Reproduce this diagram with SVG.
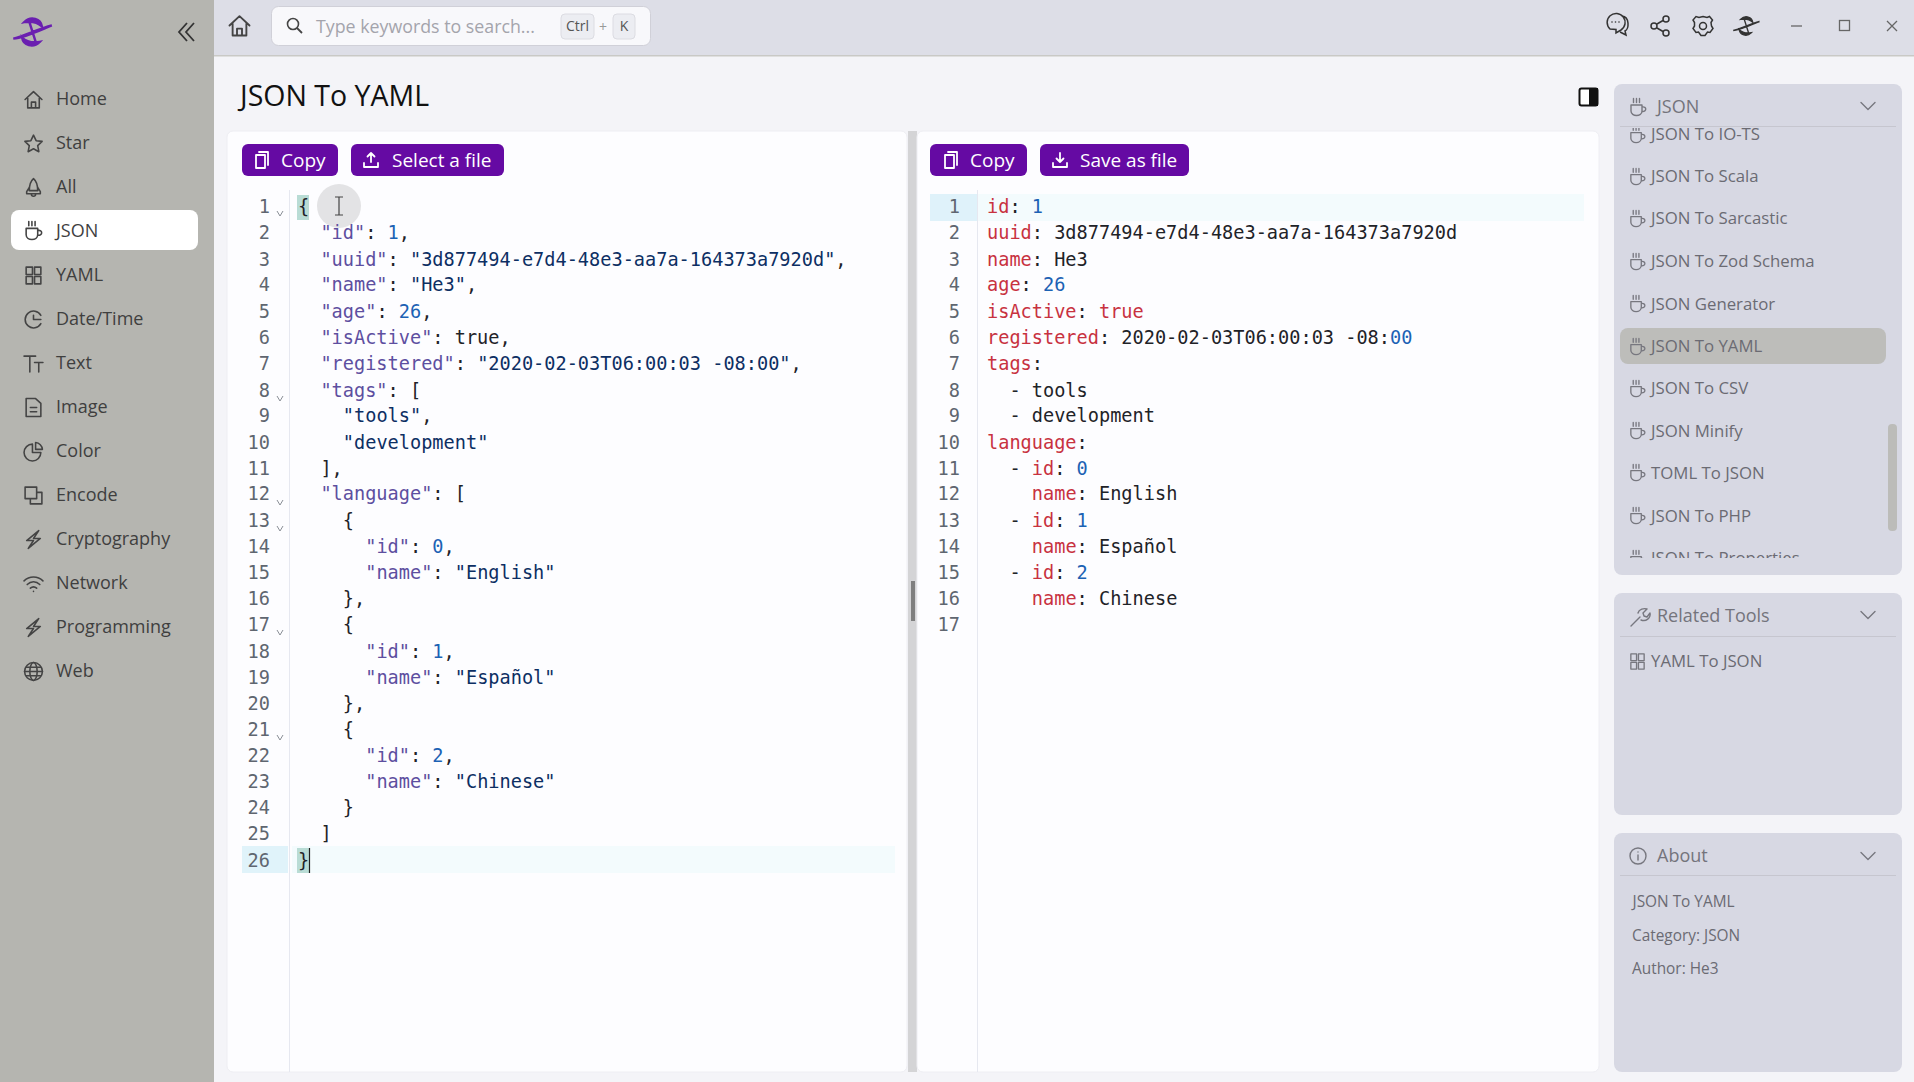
<svg xmlns="http://www.w3.org/2000/svg" width="1914" height="1082" viewBox="0 0 1914 1082">
<style>
text{font-family:"Open Sans","Noto Sans",sans-serif}
.nav{font-size:18px;fill:#3f3f3f}
.code{font-family:"DejaVu Sans Mono","Liberation Mono",monospace;font-size:18.6px;white-space:pre;fill:#1f2328}
.ln{font-family:"DejaVu Sans Mono","Liberation Mono",monospace;font-size:18.6px;fill:#5f6670;text-anchor:end}
.k{fill:#5d4fa0}.s{fill:#0d2f63}.n{fill:#1c62b4}.r{fill:#c8323f}
.btn{fill:#650aa3}
.bt{font-size:19px;fill:#fff}
.item{font-size:16.8px;fill:#6b6b73}
.sec{font-size:18px;fill:#74747c}
.ab{font-size:15.4px;fill:#6b6b73}
.ic{fill:none;stroke:#444;stroke-width:1.5;stroke-linecap:round;stroke-linejoin:round}
.ig{fill:none;stroke:#77777f;stroke-width:1.4;stroke-linecap:round;stroke-linejoin:round}
.wh{fill:none;stroke:#fff;stroke-width:1.8;stroke-linecap:round;stroke-linejoin:round}
.panel{fill:#d7d8e3}
.rule{stroke:#c6c6cf;stroke-width:1}
</style>
<defs>
<symbol id="i-home" viewBox="0 0 20 20" overflow="visible"><path d="M2 10 10 2.5 18 10M4.5 8.5V18H15.5V8.5M8 18V12.5H12V18"/></symbol>
<symbol id="i-star" viewBox="0 0 20 20" overflow="visible"><path d="M10 2 12.5 7.3 18.2 8 14 12 15.1 17.8 10 15 4.9 17.8 6 12 1.8 8 7.5 7.3Z"/></symbol>
<symbol id="i-rocket" viewBox="0 0 20 20" overflow="visible"><path d="M10 1.5C13 4 14 8 14 13H6C6 8 7 4 10 1.5ZM6 10 3.5 14V16H16.500V14L14 10M8 16.500C8 19 12 19 12 16.500"/></symbol>
<symbol id="i-cup" viewBox="0 0 20 20" overflow="visible"><path d="M3 8H14V14C14 20 3 20 3 14ZM14 10C19 9 19 15 14 14.500M5.500 1.500V5.500M8.500 1.500V5.500M11.500 1.500V5.500"/></symbol>
<symbol id="i-grid" viewBox="0 0 20 20" overflow="visible"><path d="M3 2H9V9H3ZM11 2H17V9H11ZM3 11H9V18H3ZM11 11H17V18H11Z"/></symbol>
<symbol id="i-clock" viewBox="0 0 20 20" overflow="visible"><path d="M17 6A8 8 0 1 0 17 14M10 6V10H17"/></symbol>
<symbol id="i-text" viewBox="0 0 20 20" overflow="visible"><path d="M1 3H12M6.500 3V18M11 9H19M15 9V18"/></symbol>
<symbol id="i-doc" viewBox="0 0 20 20" overflow="visible"><path d="M3 1.500H12L17 6V18.500H3ZM7 10H13M7 14H13"/></symbol>
<symbol id="i-pie" viewBox="0 0 20 20" overflow="visible"><path d="M9 3A8 8 0 1 0 17 11H9ZM12 1.500A7 7 0 0 1 18.500 8H12Z"/></symbol>
<symbol id="i-encode" viewBox="0 0 20 20" overflow="visible"><path d="M2 2H13V13H2ZM7 13V18H18V7H13"/></symbol>
<symbol id="i-bolt" viewBox="0 0 20 20" overflow="visible"><path d="M15 1.500 3.500 11H10L5 18.500 16.500 9H10Z"/></symbol>
<symbol id="i-wifi" viewBox="0 0 20 20" overflow="visible"><path d="M1 7.500C6 2.500 14 2.500 19 7.500M4 11C7.500 7.500 12.500 7.500 16 11M7 14.500C9 12.800 11 12.800 13 14.500M10 17.500V17.600"/></symbol>
<symbol id="i-globe" viewBox="0 0 20 20" overflow="visible"><circle cx="10" cy="10" r="8.500"/><ellipse cx="10" cy="10" rx="3.500" ry="8.500"/><path d="M1.500 10H18.500M3 6H17M3 14H17"/></symbol>
<symbol id="i-copy" viewBox="0 0 20 20" overflow="visible"><path d="M7 2H16V15M4 5H13V18H4Z"/></symbol>
<symbol id="i-up" viewBox="0 0 20 20" overflow="visible"><path d="M10 12V3M6.500 6.500 10 3 13.500 6.500M3 13V17H17V13"/></symbol>
<symbol id="i-down" viewBox="0 0 20 20" overflow="visible"><path d="M10 3V12M6.500 8.500 10 12 13.500 8.500M3 13V17H17V13"/></symbol>
<symbol id="i-chev" viewBox="0 0 16 10" overflow="visible"><path d="M1 1.500 8 8.500 15 1.500"/></symbol>
<path id="fold" d="M0 0 3 5 6 0" fill="none" stroke="#8a8f96" stroke-width="1"/>
<path id="orbit" d="M-17 6C-8 4 6-3 18-6C8-2-6 5-17 6ZM-7-9C-1-15 8-12 9-5 5-9-1-10-7-9ZM7 9C1 15-8 12-9 5-5 9 1 10 7 9ZM-3-11 4 11" />
</defs>

<rect width="1914" height="1082" fill="#f4f4f8"/>
<rect id="topbar-bg" x="214" y="0" width="1700" height="55" fill="#dddee7"/>
<rect x="214" y="55" width="1700" height="1.500" fill="#c9c9c6"/>

<g id="sidebar">
<rect width="214" height="1082" fill="#b5b5b0"/>
<use href="#orbit" transform="translate(32 32) scale(1.1)" fill="#6a1fb0" stroke="#6a1fb0" stroke-width="2.200"/>
<path d="M187 23 179 32 187 41M194 23 186 32 194 41" fill="none" stroke="#333" stroke-width="1.800"/>
<rect x="11" y="210" width="187" height="40" rx="8" fill="#fff"/>
<g id="nav-home"><use href="#i-home" x="23" y="89" width="21" height="21" class="ic"/><text class="nav" x="56" y="105">Home</text></g>
<g id="nav-star"><use href="#i-star" x="23" y="133" width="21" height="21" class="ic"/><text class="nav" x="56" y="149">Star</text></g>
<g id="nav-all"><use href="#i-rocket" x="23" y="177" width="21" height="21" class="ic"/><text class="nav" x="56" y="193">All</text></g>
<g id="nav-json"><use href="#i-cup" x="23" y="220" width="21" height="21" class="ic"/><text class="nav" x="56" y="237">JSON</text></g>
<g id="nav-yaml"><use href="#i-grid" x="23" y="265" width="21" height="21" class="ic"/><text class="nav" x="56" y="281">YAML</text></g>
<g id="nav-datetime"><use href="#i-clock" x="23" y="309" width="21" height="21" class="ic"/><text class="nav" x="56" y="325">Date/Time</text></g>
<g id="nav-text"><use href="#i-text" x="23" y="353" width="21" height="21" class="ic"/><text class="nav" x="56" y="369">Text</text></g>
<g id="nav-image"><use href="#i-doc" x="23" y="397" width="21" height="21" class="ic"/><text class="nav" x="56" y="413">Image</text></g>
<g id="nav-color"><use href="#i-pie" x="23" y="441" width="21" height="21" class="ic"/><text class="nav" x="56" y="457">Color</text></g>
<g id="nav-encode"><use href="#i-encode" x="23" y="485" width="21" height="21" class="ic"/><text class="nav" x="56" y="501">Encode</text></g>
<g id="nav-crypto"><use href="#i-bolt" x="23" y="529" width="21" height="21" class="ic"/><text class="nav" x="56" y="545">Cryptography</text></g>
<g id="nav-network"><use href="#i-wifi" x="23" y="573" width="21" height="21" class="ic"/><text class="nav" x="56" y="589">Network</text></g>
<g id="nav-programming"><use href="#i-bolt" x="23" y="617" width="21" height="21" class="ic"/><text class="nav" x="56" y="633">Programming</text></g>
<g id="nav-web"><use href="#i-globe" x="23" y="661" width="21" height="21" class="ic"/><text class="nav" x="56" y="677">Web</text></g>
</g>

<g id="topbar">
<use href="#i-home" x="227" y="13" width="25" height="25" class="ic"/>
<rect x="271.500" y="6.500" width="379" height="39" rx="7" fill="#f8f8fb" stroke="#d0d0d8"/>
<circle cx="293" cy="24" r="5.500" fill="none" stroke="#444" stroke-width="1.600"/><path d="M297 28 302 33" stroke="#444" stroke-width="1.800"/>
<text x="316" y="33" font-size="17.800" fill="#a4a4ac">Type keywords to search...</text>
<rect x="561" y="14" width="33" height="25" rx="4" fill="#ecedf2" stroke="#dcdce2"/>
<text x="577.500" y="31" font-size="14" fill="#555" text-anchor="middle">Ctrl</text>
<text x="603" y="32" font-size="14" fill="#999" text-anchor="middle">+</text>
<rect x="613" y="14" width="22" height="25" rx="4" fill="#ecedf2" stroke="#dcdce2"/>
<text x="624" y="31" font-size="14" fill="#555" text-anchor="middle">K</text>
<path d="M1610 29A9 9 0 1 1 1621 30L1616 33V29.500ZM1622 16C1630 17 1629 29 1625 31L1626 35 1620 32" fill="none" stroke="#333" stroke-width="1.500"/>
<circle cx="1612" cy="22" r=".8" fill="#333"/><circle cx="1615.500" cy="22" r=".8" fill="#333"/><circle cx="1619" cy="22" r=".8" fill="#333"/>
<g fill="none" stroke="#333" stroke-width="1.500"><circle cx="1654" cy="26" r="3"/><circle cx="1666" cy="19" r="3"/><circle cx="1666" cy="33" r="3"/><path d="M1657 24 1663 20.500M1657 28 1663 31.500"/>
<circle cx="1703" cy="26" r="3.500"/><path d="M1703 16.500 1707 17.500 1709.500 16.500 1712.500 20 1711 22.500 1711.500 26 1713 28.500 1710 32.500 1707.500 32 1705 35.500H1701L1698.500 32 1696 32.500 1693 28.500 1694.500 26 1694.500 22.500 1693 20 1696 16.500 1699 17.500Z"/></g>
<use href="#orbit" transform="translate(1746 26) scale(.75)" fill="#333" stroke="#333" stroke-width="1.800"/>
<g fill="none" stroke="#666" stroke-width="1.300"><path d="M1791 26H1802"/><rect x="1839.500" y="20.500" width="10" height="10"/><path d="M1887 21 1897 31M1897 21 1887 31"/></g>
</g>

<g id="title">
<text x="240" y="106" font-size="28.500" fill="#111">JSON To YAML</text>
<rect x="1579.500" y="88.500" width="18" height="17" rx="2" fill="#fff" stroke="#111" stroke-width="2"/>
<rect x="1589" y="88" width="9" height="18" fill="#111"/>
</g>

<g id="editor-left">
<rect x="227" y="131" width="680" height="941" rx="6" fill="#fdfdff" stroke="#eeeef3"/>
<g id="btn-copy-left"><rect class="btn" x="242" y="144" width="96" height="32" rx="6"/><use href="#i-copy" x="252" y="150" width="20" height="20" class="wh"/><text class="bt" x="281" y="167">Copy</text></g>
<g id="btn-select"><rect class="btn" x="351" y="144" width="153" height="32" rx="6"/><use href="#i-up" x="361" y="150" width="20" height="20" class="wh"/><text class="bt" x="392" y="167">Select a file</text></g>
<rect x="292" y="846" width="603" height="27" fill="#f3fbfd"/>
<rect x="242" y="846" width="46" height="27" fill="#e0f3fa"/>
<path d="M289.500 190V1072" stroke="#e6e8f0"/>
<rect x="297" y="195" width="12" height="25" fill="#b9dcd5"/>
<rect x="297" y="848" width="12" height="25" fill="#b9dcd5"/>
<circle cx="339" cy="206" r="22" fill="#e3e3e5"/>
<path d="M335 197H343M339 197V215M335 215H343" fill="none" stroke="#444" stroke-width="1.200"/>
<path d="M309.500 848V873" stroke="#222" stroke-width="1.200"/>
<g><text class="ln" x="270" y="213">1</text><text class="ln" x="270" y="239">2</text><text class="ln" x="270" y="266">3</text><text class="ln" x="270" y="291">4</text><text class="ln" x="270" y="318">5</text><text class="ln" x="270" y="344">6</text><text class="ln" x="270" y="370">7</text><text class="ln" x="270" y="397">8</text><text class="ln" x="270" y="422">9</text><text class="ln" x="270" y="449">10</text><text class="ln" x="270" y="475">11</text><text class="ln" x="270" y="500">12</text><text class="ln" x="270" y="527">13</text><text class="ln" x="270" y="553">14</text><text class="ln" x="270" y="579">15</text><text class="ln" x="270" y="605">16</text><text class="ln" x="270" y="631">17</text><text class="ln" x="270" y="658">18</text><text class="ln" x="270" y="684">19</text><text class="ln" x="270" y="710">20</text><text class="ln" x="270" y="736">21</text><text class="ln" x="270" y="762">22</text><text class="ln" x="270" y="788">23</text><text class="ln" x="270" y="814">24</text><text class="ln" x="270" y="840">25</text><text class="ln" x="270" y="867">26</text></g>
<use href="#fold" x="277" y="211"/><use href="#fold" x="277" y="396"/><use href="#fold" x="277" y="500"/><use href="#fold" x="277" y="526"/><use href="#fold" x="277" y="630"/><use href="#fold" x="277" y="735"/>
<text class="code" x="298" y="213">{</text>
<text class="code" x="320.400" y="239"><tspan class="k">"id"</tspan>: <tspan class="n">1</tspan>,</text>
<text class="code" x="320.400" y="266"><tspan class="k">"uuid"</tspan>: <tspan class="s">"3d877494-e7d4-48e3-aa7a-164373a7920d"</tspan>,</text>
<text class="code" x="320.400" y="291"><tspan class="k">"name"</tspan>: <tspan class="s">"He3"</tspan>,</text>
<text class="code" x="320.400" y="318"><tspan class="k">"age"</tspan>: <tspan class="n">26</tspan>,</text>
<text class="code" x="320.400" y="344"><tspan class="k">"isActive"</tspan>: true,</text>
<text class="code" x="320.400" y="370"><tspan class="k">"registered"</tspan>: <tspan class="s">"2020-02-03T06:00:03 -08:00"</tspan>,</text>
<text class="code" x="320.400" y="397"><tspan class="k">"tags"</tspan>: [</text>
<text class="code" x="342.800" y="422"><tspan class="s">"tools"</tspan>,</text>
<text class="code" x="342.800" y="449"><tspan class="s">"development"</tspan></text>
<text class="code" x="320.400" y="475">],</text>
<text class="code" x="320.400" y="500"><tspan class="k">"language"</tspan>: [</text>
<text class="code" x="342.800" y="527">{</text>
<text class="code" x="365.200" y="553"><tspan class="k">"id"</tspan>: <tspan class="n">0</tspan>,</text>
<text class="code" x="365.200" y="579"><tspan class="k">"name"</tspan>: <tspan class="s">"English"</tspan></text>
<text class="code" x="342.800" y="605">},</text>
<text class="code" x="342.800" y="631">{</text>
<text class="code" x="365.200" y="658"><tspan class="k">"id"</tspan>: <tspan class="n">1</tspan>,</text>
<text class="code" x="365.200" y="684"><tspan class="k">"name"</tspan>: <tspan class="s">"Español"</tspan></text>
<text class="code" x="342.800" y="710">},</text>
<text class="code" x="342.800" y="736">{</text>
<text class="code" x="365.200" y="762"><tspan class="k">"id"</tspan>: <tspan class="n">2</tspan>,</text>
<text class="code" x="365.200" y="788"><tspan class="k">"name"</tspan>: <tspan class="s">"Chinese"</tspan></text>
<text class="code" x="342.800" y="814">}</text>
<text class="code" x="320.400" y="840">]</text>
<text class="code" x="298" y="867">}</text>
</g>

<g id="divider"><rect x="908" y="131" width="9" height="941" fill="#d4d4d6"/><rect x="911" y="581" width="4" height="40" fill="#7f7f7f"/></g>

<g id="editor-right">
<rect x="917" y="131" width="682" height="941" rx="6" fill="#fdfdff" stroke="#eeeef3"/>
<g id="btn-copy-right"><rect class="btn" x="930" y="144" width="97" height="32" rx="6"/><use href="#i-copy" x="941" y="150" width="20" height="20" class="wh"/><text class="bt" x="970" y="167">Copy</text></g>
<g id="btn-save"><rect class="btn" x="1040" y="144" width="149" height="32" rx="6"/><use href="#i-down" x="1050" y="150" width="20" height="20" class="wh"/><text class="bt" x="1080" y="167">Save as file</text></g>
<rect x="978" y="194" width="606" height="27" fill="#f3fbfd"/>
<rect x="930" y="194" width="47" height="27" fill="#dff2fa"/>
<path d="M977.500 190V1072" stroke="#e6e8f0"/>
<g><text class="ln" x="960" y="213">1</text><text class="ln" x="960" y="239">2</text><text class="ln" x="960" y="266">3</text><text class="ln" x="960" y="291">4</text><text class="ln" x="960" y="318">5</text><text class="ln" x="960" y="344">6</text><text class="ln" x="960" y="370">7</text><text class="ln" x="960" y="397">8</text><text class="ln" x="960" y="422">9</text><text class="ln" x="960" y="449">10</text><text class="ln" x="960" y="475">11</text><text class="ln" x="960" y="500">12</text><text class="ln" x="960" y="527">13</text><text class="ln" x="960" y="553">14</text><text class="ln" x="960" y="579">15</text><text class="ln" x="960" y="605">16</text><text class="ln" x="960" y="631">17</text></g>
<text class="code" x="987" y="213"><tspan class="r">id</tspan>: <tspan class="n">1</tspan></text>
<text class="code" x="987" y="239"><tspan class="r">uuid</tspan>: 3d877494-e7d4-48e3-aa7a-164373a7920d</text>
<text class="code" x="987" y="266"><tspan class="r">name</tspan>: He3</text>
<text class="code" x="987" y="291"><tspan class="r">age</tspan>: <tspan class="n">26</tspan></text>
<text class="code" x="987" y="318"><tspan class="r">isActive</tspan>: <tspan class="r">true</tspan></text>
<text class="code" x="987" y="344"><tspan class="r">registered</tspan>: 2020-02-03T06:00:03 -08:<tspan class="n">00</tspan></text>
<text class="code" x="987" y="370"><tspan class="r">tags</tspan>:</text>
<text class="code" x="1009.400" y="397">- tools</text>
<text class="code" x="1009.400" y="422">- development</text>
<text class="code" x="987" y="449"><tspan class="r">language</tspan>:</text>
<text class="code" x="1009.400" y="475">- <tspan class="r">id</tspan>: <tspan class="n">0</tspan></text>
<text class="code" x="1031.800" y="500"><tspan class="r">name</tspan>: English</text>
<text class="code" x="1009.400" y="527">- <tspan class="r">id</tspan>: <tspan class="n">1</tspan></text>
<text class="code" x="1031.800" y="553"><tspan class="r">name</tspan>: Español</text>
<text class="code" x="1009.400" y="579">- <tspan class="r">id</tspan>: <tspan class="n">2</tspan></text>
<text class="code" x="1031.800" y="605"><tspan class="r">name</tspan>: Chinese</text>
</g>

<g id="panel-json">
<clipPath id="listclip"><rect x="1614" y="128" width="288" height="430"/></clipPath>
<rect class="panel" x="1614" y="84" width="288" height="491" rx="8"/>
<use href="#i-cup" x="1628" y="97" width="20" height="20" class="ig"/>
<text class="sec" x="1657" y="113">JSON</text>
<use href="#i-chev" x="1860" y="101" width="16" height="10" class="ig"/>
<path class="rule" d="M1620 126.500H1896"/>
<rect x="1620" y="328" width="266" height="36" rx="8" fill="#bdbdba"/>
<g clip-path="url(#listclip)">
<g id="li0"><use href="#i-cup" x="1628" y="125" width="19" height="19" class="ig"/><text class="item" x="1651" y="140">JSON To IO-TS</text></g>
<g id="li1"><use href="#i-cup" x="1628" y="167" width="19" height="19" class="ig"/><text class="item" x="1651" y="182">JSON To Scala</text></g>
<g id="li2"><use href="#i-cup" x="1628" y="209" width="19" height="19" class="ig"/><text class="item" x="1651" y="224">JSON To Sarcastic</text></g>
<g id="li3"><use href="#i-cup" x="1628" y="252" width="19" height="19" class="ig"/><text class="item" x="1651" y="267">JSON To Zod Schema</text></g>
<g id="li4"><use href="#i-cup" x="1628" y="294" width="19" height="19" class="ig"/><text class="item" x="1651" y="310">JSON Generator</text></g>
<g id="li5"><use href="#i-cup" x="1628" y="337" width="19" height="19" class="ig"/><text class="item" x="1651" y="352">JSON To YAML</text></g>
<g id="li6"><use href="#i-cup" x="1628" y="379" width="19" height="19" class="ig"/><text class="item" x="1651" y="394">JSON To CSV</text></g>
<g id="li7"><use href="#i-cup" x="1628" y="421" width="19" height="19" class="ig"/><text class="item" x="1651" y="437">JSON Minify</text></g>
<g id="li8"><use href="#i-cup" x="1628" y="463" width="19" height="19" class="ig"/><text class="item" x="1651" y="479">TOML To JSON</text></g>
<g id="li9"><use href="#i-cup" x="1628" y="506" width="19" height="19" class="ig"/><text class="item" x="1651" y="522">JSON To PHP</text></g>
<g id="li10"><use href="#i-cup" x="1628" y="549" width="19" height="19" class="ig"/><text class="item" x="1651" y="564">JSON To Properties</text></g>
</g>
<rect x="1888" y="424" width="9" height="107" rx="4" fill="#bcbcb9"/>
</g>

<g id="panel-related">
<rect class="panel" x="1614" y="593" width="288" height="222" rx="8"/>
<path d="M1633 624 1642 615M1640 611C1641 607 1646 606 1649 607L1645 611 1646 614 1649 615 1652 611C1653 616 1648 620 1643 618" class="ig" transform="translate(-2 2)"/>
<text class="sec" x="1657" y="622">Related Tools</text>
<use href="#i-chev" x="1860" y="610" width="16" height="10" class="ig"/>
<path class="rule" d="M1620 636.500H1896"/>
<use href="#i-grid" x="1628" y="652" width="19" height="19" class="ig"/>
<text class="item" x="1651" y="667">YAML To JSON</text>
</g>

<g id="panel-about">
<rect class="panel" x="1614" y="833" width="288" height="239" rx="8"/>
<circle cx="1638" cy="856" r="8" class="ig"/><path d="M1638 855V860M1638 852V852.100" class="ig"/>
<text class="sec" x="1657" y="862">About</text>
<use href="#i-chev" x="1860" y="851" width="16" height="10" class="ig"/>
<path class="rule" d="M1620 875.500H1896"/>
<text class="ab" x="1632.500" y="907">JSON To YAML</text>
<text class="ab" x="1632" y="941">Category: JSON</text>
<text class="ab" x="1632" y="974">Author: He3</text>
</g>
</svg>
